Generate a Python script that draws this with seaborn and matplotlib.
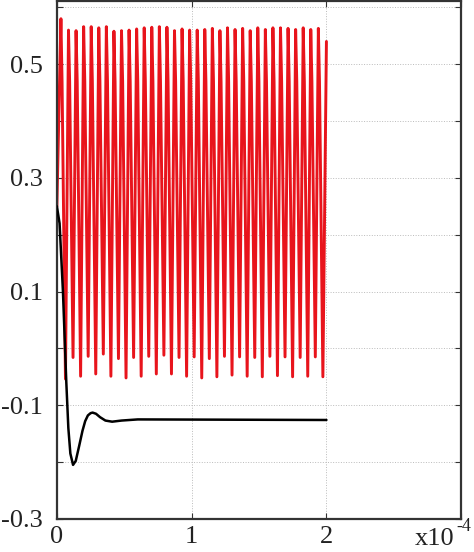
import numpy as np
import pandas as pd
import matplotlib
matplotlib.use("Agg")
import matplotlib.pyplot as plt
from matplotlib.ticker import MultipleLocator, FixedLocator
import seaborn as sns

# red signal: peak and trough values (one per cycle)
red_peaks = [0.580, 0.560, 0.559, 0.566, 0.566, 0.564, 0.566, 0.558, 0.559, 0.560,
             0.562, 0.564, 0.565, 0.566, 0.565, 0.559, 0.562, 0.560, 0.560, 0.561,
             0.563, 0.559, 0.564, 0.561, 0.563, 0.559, 0.564, 0.561, 0.564, 0.564,
             0.563, 0.561, 0.564, 0.561, 0.563]
red_troughs = [-0.054, -0.016, -0.049, -0.014, -0.045, -0.010, -0.049, -0.018, -0.052, -0.016,
               -0.049, -0.014, -0.045, -0.012, -0.045, -0.016, -0.049, -0.015, -0.052, -0.018,
               -0.050, -0.014, -0.047, -0.015, -0.049, -0.016, -0.050, -0.014, -0.048, -0.015,
               -0.050, -0.016, -0.049, -0.015, -0.050]
red_shoulder = 0.47
red_start, red_end = 0.25, 0.54
first_peak_t, last_peak_t = 0.03, 1.94

# black signal (time in units of 1e-4)
black_t = [0.0, 0.02, 0.045, 0.07, 0.085, 0.1, 0.12, 0.14, 0.165, 0.19, 0.21, 0.23,
           0.25, 0.265, 0.29, 0.32, 0.36, 0.41, 0.48, 0.6, 2.0]
black_v = [0.25, 0.22, 0.10, -0.06, -0.14, -0.185, -0.205, -0.198, -0.172, -0.145,
           -0.128, -0.118, -0.114, -0.113, -0.115, -0.121, -0.127, -0.129, -0.127,
           -0.125, -0.126]

# assemble red line points
n = len(red_peaks)
P = (last_peak_t - first_peak_t) / (n - 1)
peak_t = np.linspace(first_peak_t, last_peak_t, n)
rt, rv = [0.0], [red_start]
for k in range(n):
    rt += [peak_t[k], peak_t[k] + 0.15 * P, peak_t[k] + 0.6 * P]
    rv += [red_peaks[k], red_shoulder, red_troughs[k]]
rt.append(2.0)
rv.append(red_end)
red = pd.DataFrame({"t": rt, "v": rv})
black = pd.DataFrame({"t": black_t, "v": black_v})

sns.set_style("ticks")
plt.rcParams["font.family"] = ["Liberation Serif", "DejaVu Serif"]
plt.rcParams["axes.unicode_minus"] = False

fig = plt.figure(figsize=(4.74, 5.52), dpi=100)
ax = fig.add_axes([0.120, 0.060, 0.853, 0.938])

sns.lineplot(data=red, x="t", y="v", ax=ax, color="#e8141c", lw=2.1, sort=False, zorder=2)
sns.lineplot(data=black, x="t", y="v", ax=ax, color="black", lw=1.8, sort=False, zorder=3)

ax.set_xlim(0, 3)
ax.set_ylim(-0.3, 0.611)
ax.xaxis.set_major_locator(FixedLocator([0, 1, 2, 3]))
ax.set_xticklabels(["0", "1", "2", ""])
ax.yaxis.set_major_locator(FixedLocator([-0.3, -0.1, 0.1, 0.3, 0.5]))
ax.set_yticklabels(["-0.3", "-0.1", "0.1", "0.3", "0.5"])
ax.yaxis.set_minor_locator(FixedLocator([-0.2, 0.0, 0.2, 0.4, 0.6]))
ax.set_xlabel("")
ax.set_ylabel("")

ax.grid(True, which="both", color="#bbbbbb", linestyle=":", linewidth=0.7)
ax.tick_params(which="both", direction="in", top=True, right=True, length=4,
               width=0.8, color="#333333", labelsize=19, labelcolor="#222222")
ax.tick_params(axis="y", pad=10)
ax.tick_params(axis="x", pad=5)
for s in ax.spines.values():
    s.set_color("#333333")
    s.set_linewidth(1.6)

fig.text(0.876, 0.004, "x10", fontsize=19, color="#222222", ha="left", va="bottom")
fig.text(0.962, 0.030, "-4", fontsize=13, color="#222222", ha="left", va="bottom")

fig.savefig("out.png", dpi=100)
